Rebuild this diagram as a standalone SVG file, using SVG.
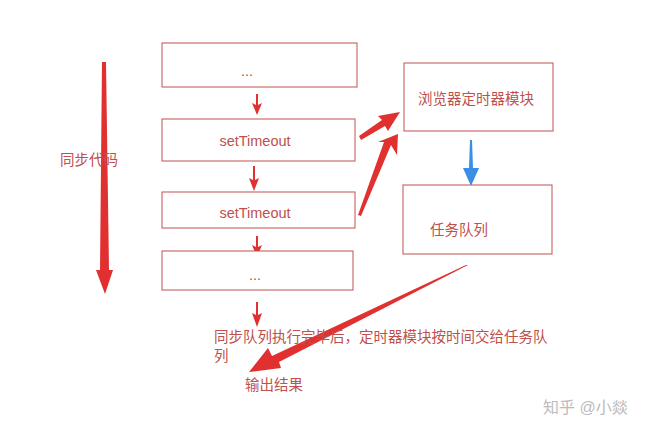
<svg xmlns="http://www.w3.org/2000/svg" width="664" height="434" viewBox="0 0 664 434">
<style>
.b{fill:#fff;stroke:#c0504d;stroke-width:1}
.t{font-family:"Liberation Sans","Noto Sans CJK SC",sans-serif;font-size:14.5px;fill:#c0504d}
.r{fill:#e03030}
</style>
<rect width="664" height="434" fill="#fff"/>
<g id="connectors">
<polygon class="r" points="102,62 106,62 109,270 113,270 105,294 96,270 100,270"/>
<polygon class="r" points="256,94 258,94 258,105 262,103 257,115 252,103 256,105"/>
<polygon class="r" points="253,166 255,166 255,180 259,178 254,191 249,178 253,180"/>
<polygon class="r" points="256,236 258,236 258,247 262,245 257,257 252,245 256,247"/>
<polygon class="r" points="256,302 258,302 258,315 262,313 257,327 252,313 256,315"/>
<polygon class="r" points="359,136 382,120 378,116 400,112 388,131 385,126 361,140"/>
<polygon class="r" points="358,215 384,142 378,142 398,134 397,155 391,145 361,216"/>
<polygon fill="#3a8ee6" points="470,140 472,140 473,168 479,168 471,186 463,168 469,168"/>
<polygon class="r" points="468,265 279,362 281,368 249,372 268,348 272,356 466,265"/>
</g>
<g id="n1"><rect class="b" x="162" y="43" width="195" height="44"/><text class="t" x="247" y="76" text-anchor="middle">...</text></g>
<g id="n2"><rect class="b" x="162" y="119" width="193" height="42"/><text class="t" x="255" y="146" text-anchor="middle" font-size="15.5">setTimeout</text></g>
<g id="n3"><rect class="b" x="162" y="192" width="193" height="36"/><text class="t" x="255" y="218" text-anchor="middle" font-size="15.5">setTimeout</text></g>
<g id="n4"><rect class="b" x="162" y="251" width="191" height="39"/><text class="t" x="255" y="280" text-anchor="middle">...</text></g>
<g id="n5"><rect class="b" x="404" y="63" width="149" height="68"/><text class="t" x="418" y="104">浏览器定时器模块</text></g>
<g id="n6"><rect class="b" x="403" y="185" width="149" height="69"/><text class="t" x="430" y="235">任务队列</text></g>
<g id="labels">
<text class="t" x="60" y="165">同步代码</text>
<text class="t" x="214" y="342">同步队列执行完毕后，定时器模块按时间交给任务队</text>
<text class="t" x="214" y="361">列</text>
<text class="t" x="245" y="390">输出结果</text>
<text x="543" y="413" style="font-family:'Liberation Sans','Noto Sans CJK SC',sans-serif;font-size:16px;fill:#bbb">知乎 @小燚</text>
</g>
</svg>
